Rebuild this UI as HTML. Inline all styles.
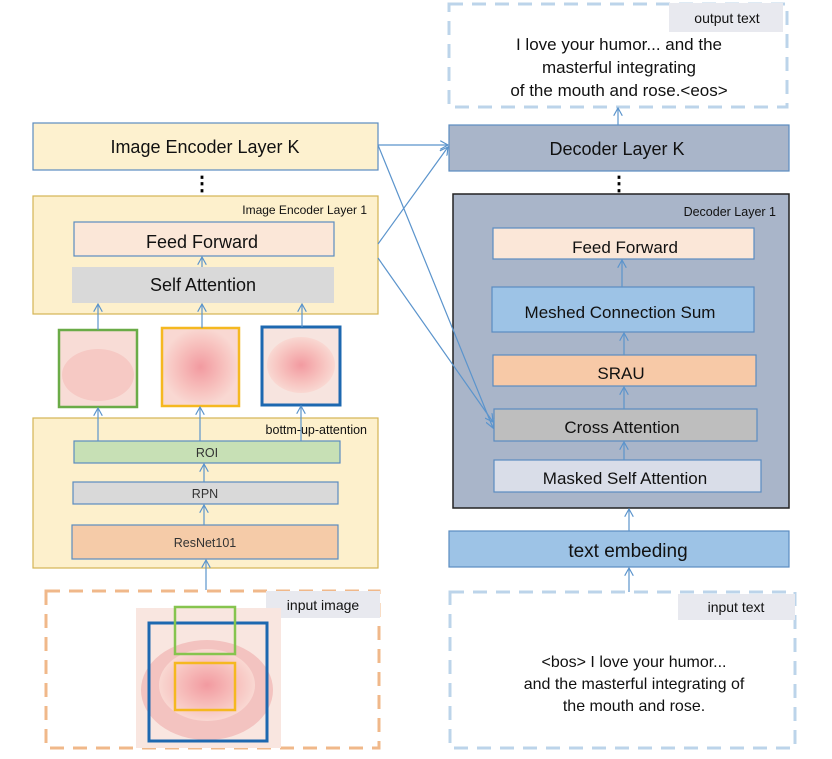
<!DOCTYPE html>
<html><head><meta charset="utf-8"><style>
html,body{margin:0;padding:0;background:#fff;}
svg{display:block;font-family:"Liberation Sans",Arial,sans-serif;}
</style></head><body>
<svg width="832" height="759" viewBox="0 0 832 759" xmlns="http://www.w3.org/2000/svg">
<defs>
<marker id="a" viewBox="0 0 10 10" refX="9" refY="5" markerWidth="9" markerHeight="9" orient="auto" markerUnits="userSpaceOnUse"><path d="M0,0 L9,5 L0,10" fill="none" stroke="#5b94cc" stroke-width="1.3"/></marker>
<radialGradient id="rose" cx="50%" cy="50%" r="50%"><stop offset="0" stop-color="#f29aa0"/><stop offset="0.6" stop-color="#f7c0bd"/><stop offset="1" stop-color="#f9d8d2"/></radialGradient>
</defs>
<!-- Encoder K -->
<rect x="33" y="123" width="345" height="47" fill="#fdf1cf" stroke="#5b8cc0" stroke-width="1.2"/>
<text x="205" y="153" font-size="18" text-anchor="middle" fill="#111">Image Encoder Layer K</text>
<text x="202" y="190" font-size="20" text-anchor="middle" font-weight="bold">⋮</text>
<!-- Encoder layer 1 -->
<rect x="33" y="196" width="345" height="118" fill="#fdf0cc" stroke="#d4b454" stroke-width="1.2"/>
<text x="367" y="214" font-size="12" text-anchor="end" fill="#111">Image Encoder Layer 1</text>
<rect x="74" y="222" width="260" height="34" fill="#fbe7d8" stroke="#5b8cc0" stroke-width="1.2"/>
<text x="202" y="248" font-size="18" text-anchor="middle" fill="#111">Feed Forward</text>
<rect x="72" y="267" width="262" height="36" fill="#d9d9d9"/>
<text x="203" y="291" font-size="18" text-anchor="middle" fill="#111">Self Attention</text>
<!-- patches -->
<rect x="59" y="330" width="78" height="77" fill="#f8dcd6" stroke="#6aab47" stroke-width="2.5"/>
<ellipse cx="98" cy="375" rx="36" ry="26" fill="#f6c9c4"/>
<rect x="162" y="328" width="77" height="78" fill="url(#rose)" stroke="#f5b820" stroke-width="2.5"/>
<rect x="262" y="327" width="78" height="78" fill="#f7e4df" stroke="#1d68b0" stroke-width="3"/>
<ellipse cx="301" cy="365" rx="34" ry="28" fill="url(#rose)"/>
<!-- bottom-up -->
<rect x="33" y="418" width="345" height="150" fill="#fdf0cc" stroke="#d4b454" stroke-width="1.2"/>
<text x="367" y="434" font-size="12.5" text-anchor="end" fill="#111">bottm-up-attention</text>
<rect x="74" y="441" width="266" height="22" fill="#c7e0b5" stroke="#5b8cc0" stroke-width="1.2"/>
<text x="207" y="457" font-size="12.5" text-anchor="middle" fill="#333">ROI</text>
<rect x="73" y="482" width="265" height="22" fill="#d9d9d9" stroke="#5b8cc0" stroke-width="1.2"/>
<text x="205" y="498" font-size="12.5" text-anchor="middle" fill="#333">RPN</text>
<rect x="72" y="525" width="266" height="34" fill="#f5cba8" stroke="#5b8cc0" stroke-width="1.2"/>
<text x="205" y="547" font-size="12.5" text-anchor="middle" fill="#333">ResNet101</text>
<!-- left arrows -->
<g stroke="#5b94cc" stroke-width="1.2" fill="none">
<line x1="98" y1="330" x2="98" y2="304" marker-end="url(#a)"/>
<line x1="202" y1="328" x2="202" y2="304" marker-end="url(#a)"/>
<line x1="302" y1="327" x2="302" y2="304" marker-end="url(#a)"/>
<line x1="202" y1="267" x2="202" y2="257" marker-end="url(#a)"/>
<line x1="98" y1="441" x2="98" y2="408" marker-end="url(#a)"/>
<line x1="200" y1="441" x2="200" y2="407" marker-end="url(#a)"/>
<line x1="301" y1="441" x2="301" y2="406" marker-end="url(#a)"/>
<line x1="204" y1="482" x2="204" y2="464" marker-end="url(#a)"/>
<line x1="204" y1="525" x2="204" y2="505" marker-end="url(#a)"/>
<line x1="206" y1="590" x2="206" y2="560" marker-end="url(#a)"/>
</g>
<!-- input image -->
<rect x="46" y="591" width="333" height="157" fill="none" stroke="#f0b88a" stroke-width="3" stroke-dasharray="14,9"/>
<rect x="266" y="591" width="114" height="27" fill="#e8e9ef"/>
<text x="323" y="610" font-size="14" text-anchor="middle" fill="#111">input image</text>
<rect x="136" y="608" width="145" height="140" fill="#f9e6e0"/>
<ellipse cx="207" cy="690" rx="66" ry="50" fill="#f3c3c0"/>
<ellipse cx="207" cy="685" rx="48" ry="36" fill="url(#rose)"/>
<rect x="149" y="623" width="118" height="118" fill="none" stroke="#1d68b0" stroke-width="3"/>
<rect x="175" y="607" width="60" height="47" fill="none" stroke="#86c44e" stroke-width="2.5"/>
<rect x="175" y="663" width="60" height="47" fill="none" stroke="#f5b820" stroke-width="2.5"/>
<!-- right: output -->
<rect x="449" y="4" width="338" height="103" fill="none" stroke="#bcd4ea" stroke-width="3" stroke-dasharray="14,9"/>
<rect x="669" y="3" width="114" height="29" fill="#e8e9ef"/>
<text x="727" y="23" font-size="14" text-anchor="middle" fill="#111">output text</text>
<text x="619" y="50" font-size="17" text-anchor="middle" fill="#111">I love your humor... and the</text>
<text x="619" y="73" font-size="17" text-anchor="middle" fill="#111">masterful integrating</text>
<text x="619" y="96" font-size="17" text-anchor="middle" fill="#111">of the mouth and rose.&lt;eos&gt;</text>
<!-- decoder K -->
<rect x="449" y="125" width="340" height="46" fill="#a9b5c9" stroke="#5b8cc0" stroke-width="1.2"/>
<text x="617" y="155" font-size="18" text-anchor="middle" fill="#111">Decoder Layer K</text>
<text x="619" y="190" font-size="20" text-anchor="middle" font-weight="bold">⋮</text>
<!-- decoder 1 -->
<rect x="453" y="194" width="336" height="314" fill="#a9b5c9" stroke="#222" stroke-width="1.5"/>
<text x="776" y="216" font-size="12.5" text-anchor="end" fill="#111">Decoder Layer 1</text>
<rect x="493" y="228" width="261" height="31" fill="#fbe7d8" stroke="#5b8cc0" stroke-width="1.2"/>
<text x="625" y="253" font-size="17" text-anchor="middle" fill="#111">Feed Forward</text>
<rect x="492" y="287" width="262" height="45" fill="#9dc3e6" stroke="#5b8cc0" stroke-width="1.2"/>
<text x="620" y="318" font-size="17" text-anchor="middle" fill="#111">Meshed Connection Sum</text>
<rect x="493" y="355" width="263" height="31" fill="#f7c9a7" stroke="#5b8cc0" stroke-width="1.2"/>
<text x="621" y="379" font-size="17" text-anchor="middle" fill="#111">SRAU</text>
<rect x="494" y="409" width="263" height="32" fill="#bebebe" stroke="#5b8cc0" stroke-width="1.2"/>
<text x="622" y="433" font-size="17" text-anchor="middle" fill="#111">Cross Attention</text>
<rect x="494" y="460" width="267" height="32" fill="#d9dde8" stroke="#5b8cc0" stroke-width="1.2"/>
<text x="625" y="484" font-size="17" text-anchor="middle" fill="#111">Masked Self Attention</text>
<!-- text embedding -->
<rect x="449" y="531" width="340" height="36" fill="#9dc3e6" stroke="#5b8cc0" stroke-width="1.2"/>
<text x="628" y="557" font-size="19" text-anchor="middle" fill="#111">text embeding</text>
<!-- input text -->
<rect x="450" y="592" width="345" height="156" fill="none" stroke="#bcd4ea" stroke-width="3" stroke-dasharray="14,9"/>
<rect x="678" y="594" width="117" height="26" fill="#e8e9ef"/>
<text x="736" y="612" font-size="14" text-anchor="middle" fill="#111">input text</text>
<text x="634" y="667" font-size="16" text-anchor="middle" fill="#111">&lt;bos&gt; I love your humor...</text>
<text x="634" y="689" font-size="16" text-anchor="middle" fill="#111">and the masterful integrating of</text>
<text x="634" y="711" font-size="16" text-anchor="middle" fill="#111">the mouth and rose.</text>
<!-- right arrows -->
<g stroke="#5b94cc" stroke-width="1.2" fill="none">
<line x1="618" y1="125" x2="618" y2="108" marker-end="url(#a)"/>
<line x1="622" y1="287" x2="622" y2="260" marker-end="url(#a)"/>
<line x1="624" y1="355" x2="624" y2="333" marker-end="url(#a)"/>
<line x1="624" y1="409" x2="624" y2="387" marker-end="url(#a)"/>
<line x1="624" y1="460" x2="624" y2="442" marker-end="url(#a)"/>
<line x1="629" y1="531" x2="629" y2="509" marker-end="url(#a)"/>
<line x1="629" y1="592" x2="629" y2="568" marker-end="url(#a)"/>
</g>
<!-- cross connections (on top) -->
<g stroke="#5b94cc" stroke-width="1.2" fill="none">
<line x1="378" y1="145" x2="448" y2="145" marker-end="url(#a)"/>
<line x1="378" y1="145" x2="493" y2="428" marker-end="url(#a)"/>
<line x1="378" y1="244" x2="448" y2="147" marker-end="url(#a)"/>
<line x1="378" y1="258" x2="493" y2="422" marker-end="url(#a)"/>
</g>
</svg>
</body></html>
